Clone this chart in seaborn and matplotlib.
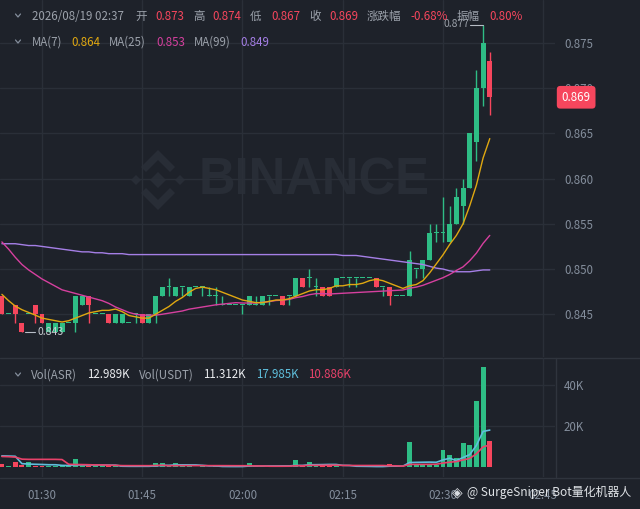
import numpy as np
import pandas as pd
import matplotlib
matplotlib.use("Agg")
import matplotlib.pyplot as plt
import seaborn as sns
from matplotlib.patches import Polygon
from matplotlib.transforms import blended_transform_factory

# ---------------- data ----------------
START = "2026-08-19 01:24"
OPEN = [0.847, 0.845, 0.846, 0.844, 0.845, 0.846, 0.845, 0.843, 0.843, 0.843,
        0.844, 0.844, 0.846, 0.847, 0.845, 0.845, 0.845, 0.844, 0.844, 0.844,
        0.845, 0.845, 0.844, 0.845, 0.847, 0.848, 0.847, 0.848, 0.847, 0.848,
        0.848, 0.847, 0.847, 0.846, 0.846, 0.846, 0.846, 0.846, 0.846, 0.846,
        0.847, 0.847, 0.847, 0.847, 0.847, 0.849, 0.849, 0.848, 0.848, 0.848,
        0.848, 0.849, 0.849, 0.849, 0.849, 0.849, 0.849, 0.848, 0.848, 0.847,
        0.847, 0.847, 0.850, 0.850, 0.851, 0.854, 0.854, 0.853, 0.855, 0.857,
        0.859, 0.864, 0.870, 0.873]
HIGH = [0.847, 0.845, 0.846, 0.844, 0.845, 0.846, 0.845, 0.844, 0.844, 0.844,
        0.844, 0.847, 0.847, 0.847, 0.845, 0.845, 0.845, 0.845, 0.845, 0.844,
        0.845, 0.845, 0.845, 0.847, 0.848, 0.849, 0.848, 0.848, 0.848, 0.848,
        0.848, 0.848, 0.848, 0.847, 0.846, 0.846, 0.846, 0.847, 0.847, 0.847,
        0.847, 0.847, 0.847, 0.847, 0.849, 0.849, 0.850, 0.849, 0.848, 0.848,
        0.849, 0.849, 0.849, 0.849, 0.849, 0.849, 0.849, 0.848, 0.848, 0.847,
        0.847, 0.852, 0.850, 0.851, 0.855, 0.855, 0.858, 0.857, 0.859, 0.860,
        0.865, 0.872, 0.877, 0.874]
LOW = [0.845, 0.845, 0.844, 0.843, 0.845, 0.844, 0.844, 0.843, 0.843, 0.843,
       0.844, 0.843, 0.846, 0.844, 0.845, 0.845, 0.844, 0.844, 0.844, 0.844,
       0.844, 0.844, 0.844, 0.844, 0.847, 0.847, 0.847, 0.847, 0.847, 0.848,
       0.847, 0.847, 0.846, 0.846, 0.846, 0.846, 0.845, 0.846, 0.846, 0.846,
       0.846, 0.847, 0.846, 0.846, 0.847, 0.848, 0.848, 0.847, 0.847, 0.847,
       0.848, 0.849, 0.848, 0.848, 0.849, 0.849, 0.848, 0.847, 0.846, 0.847,
       0.847, 0.847, 0.849, 0.849, 0.851, 0.853, 0.853, 0.853, 0.855, 0.855,
       0.859, 0.862, 0.868, 0.867]
CLOSE = [0.845, 0.845, 0.845, 0.843, 0.845, 0.845, 0.844, 0.844, 0.844, 0.844,
         0.844, 0.847, 0.847, 0.846, 0.845, 0.845, 0.844, 0.845, 0.845, 0.844,
         0.845, 0.844, 0.845, 0.847, 0.848, 0.848, 0.848, 0.848, 0.848, 0.848,
         0.848, 0.847, 0.847, 0.846, 0.846, 0.846, 0.846, 0.847, 0.846, 0.847,
         0.847, 0.847, 0.846, 0.847, 0.849, 0.848, 0.849, 0.848, 0.847, 0.847,
         0.849, 0.849, 0.849, 0.849, 0.849, 0.849, 0.848, 0.848, 0.847, 0.847,
         0.847, 0.851, 0.850, 0.851, 0.854, 0.854, 0.854, 0.855, 0.858, 0.859,
         0.865, 0.870, 0.875, 0.869]
VOLUME_K = [1.6, 0.65, 2.8, 1.1, 2.4, 0.65, 0.65, 0.65, 0.65, 0.65,
            0.65, 4.1, 0.7, 0.6, 0.5, 0.5, 0.6, 0.5, 0.5, 0.4,
            0.5, 0.6, 0.5, 2.0, 2.3, 0.6, 2.0, 0.5, 0.5, 0.4,
            0.5, 0.4, 0.5, 0.3, 0.3, 0.4, 0.5, 2.0, 0.6, 0.6,
            0.3, 0.3, 0.6, 0.6, 3.6, 0.6, 2.8, 0.6, 0.6, 1.1,
            0.6, 0.4, 0.3, 0.3, 0.3, 0.3, 0.6, 0.6, 1.6, 0.4,
            0.4, 12.5, 1.0, 1.0, 1.0, 1.0, 8.5, 6.0, 4.4, 11.7,
            10.9, 32.3, 48.8, 13.0]
# moving-average values before their windows are full
MA7_HEAD = [0.8472, 0.8465, 0.8459, 0.8455, 0.8452, 0.8449]
MA25_HEAD = [0.8530, 0.8522, 0.8513, 0.8505, 0.8499, 0.8494, 0.8489, 0.8485,
             0.8481, 0.8477, 0.8475, 0.8473, 0.8471, 0.8469, 0.8467, 0.8465,
             0.8462, 0.8458, 0.8455, 0.8452, 0.8450, 0.8449, 0.8449, 0.8449]
MA99 = ([0.8528, 0.8528, 0.8528, 0.8527, 0.8526, 0.8526, 0.8525, 0.8524,
         0.8523, 0.8522, 0.8521, 0.8520, 0.8519, 0.8519, 0.8518, 0.8518,
         0.8517, 0.8517, 0.8517, 0.8516]
        + [0.8516] * 31
        + [0.8515, 0.8515, 0.8515, 0.8514, 0.8513, 0.8512, 0.8511, 0.8510,
           0.8509, 0.8508, 0.8507, 0.8506, 0.8505, 0.8503, 0.8501, 0.8500,
           0.8498, 0.8497, 0.8497, 0.8497, 0.8498, 0.8499, 0.8499])
VMA7_HEAD = [5.6, 5.5, 5.4, 1.8, 1.6, 1.5]
VMA14_HEAD = [5.3, 5.2, 5.0, 4.0, 3.9, 3.9, 3.9, 3.9, 3.9, 3.8, 1.5, 1.4, 1.35]
TIME_TICKS = ["01:30", "01:45", "02:00", "02:15", "02:30", "02:45"]
PRICE_TICKS = [0.845, 0.850, 0.855, 0.860, 0.865, 0.870, 0.875]
VOL_TICKS = [20, 40]
VOL_TICK_LABELS = ["20K", "40K"]
HEADER_DATE = "2026/08/19 02:37"
CHANGE_PCT = "-0.68%"
AMPLITUDE = "0.80%"
MA_TEXT = ["0.864", "0.853", "0.849"]
VOL_TEXT = ["12.989K", "11.312K", "17.985K", "10.886K"]

# ---------------- derived ----------------
times = pd.date_range(START, periods=len(CLOSE), freq="min")
idx = np.arange(len(CLOSE))
df = pd.DataFrame({"i": idx, "open": OPEN, "high": HIGH, "low": LOW,
                   "close": CLOSE, "vol": VOLUME_K})
close_s = df["close"]
ma7 = close_s.rolling(7).mean().to_numpy()
ma7[:len(MA7_HEAD)] = MA7_HEAD
ma25 = close_s.rolling(25).mean().to_numpy()
ma25[:len(MA25_HEAD)] = MA25_HEAD
ma99 = np.array(MA99)
vma7 = df["vol"].rolling(7).mean().to_numpy()
vma7[:len(VMA7_HEAD)] = VMA7_HEAD
vma14 = df["vol"].rolling(14).mean().to_numpy()
vma14[:len(VMA14_HEAD)] = VMA14_HEAD
up = df["close"] >= df["open"]

tick_pos = [(pd.Timestamp(f"2026-08-19 {t}") - times[0]) / pd.Timedelta("1min")
            for t in TIME_TICKS]

# ---------------- style ----------------
BG = "#1e222a"
GRID = "#2a2f38"
GREEN = "#2ebd85"
RED = "#f6465d"
TXT = "#848e9c"
C_MA7, C_MA25, C_MA99 = "#e0a811", "#d6409f", "#a57fe6"
C_V7, C_V14 = "#5fbfdc", "#e8426a"
sns.set_theme(style="dark")
plt.rcParams["font.family"] = ["Noto Sans CJK SC", "DejaVu Sans"]
plt.rcParams["axes.unicode_minus"] = False

W, H = 640, 509
fig = plt.figure(figsize=(6.4, 5.09), dpi=100, facecolor=BG)

# background overlay (watermark)
bg = fig.add_axes([0, 0, 1, 1], zorder=0)
bg.set_xlim(0, W)
bg.set_ylim(H, 0)
bg.axis("off")
WM = "#282d36"
cx, cy = 158, 180
shapes = [
    [(0, -8), (8, 0), (0, 8), (-8, 0)],
    [(-22, -5), (-17, 0), (-22, 5), (-27, 0)],
    [(22, -5), (27, 0), (22, 5), (17, 0)],
    [(-17, -13), (0, -30), (17, -13), (12, -8), (0, -20), (-12, -8)],
    [(-17, 13), (0, 30), (17, 13), (12, 8), (0, 20), (-12, 8)],
]
for s in shapes:
    bg.add_patch(Polygon([(cx + a, cy + b) for a, b in s], closed=True,
                         fc=WM, ec="none"))
bg.text(199, 181, "BINANCE", fontsize=36.5, fontweight="bold", color=WM,
        family="Liberation Sans", va="center", ha="left")
# pane separators
bg.plot([0, W], [357.5, 357.5], color="#2f343d", lw=1)
bg.plot([0, W], [477.5, 477.5], color="#2f343d", lw=1)
bg.plot([555.5, 555.5], [358, 477], color="#2f343d", lw=1)

# price pane
XL = (-0.284, 82.76)
ax = fig.add_axes([0, (H - 357) / H, 555 / W, 357 / H], zorder=1)
ax.set_facecolor("none")
ax.set_xlim(*XL)
ax.set_ylim(0.84027, 0.87976)
for s in ax.spines.values():
    s.set_visible(False)
ax.set_yticks(PRICE_TICKS)
ax.set_yticklabels([f"{p:.3f}" for p in PRICE_TICKS])
ax.yaxis.tick_right()
ax.set_xticks(tick_pos)
ax.set_xticklabels([])
ax.tick_params(axis="both", length=0, colors=TXT, labelsize=8.3, pad=6.5)
ax.grid(True, color=GRID, lw=1)
ax.set_axisbelow(True)

cols = np.where(up, GREEN, RED)
ax.vlines(df["i"], df["low"], df["high"], colors=cols, lw=1, zorder=2)
body_lo = np.minimum(df["open"], df["close"])
body_h = np.maximum(np.abs(df["close"] - df["open"]), 0.00012)
ax.bar(df["i"], body_h, bottom=body_lo, width=0.74, color=cols, zorder=3,
       linewidth=0)

for vals, c in [(ma99, C_MA99), (ma25, C_MA25), (ma7, C_MA7)]:
    sns.lineplot(x=idx, y=vals, ax=ax, color=c, lw=1, sort=False,
                 estimator=None, zorder=4)

# high / low markers
hi_i = int(np.argmax(HIGH))
lo_i = int(np.argmin(LOW))
MK = "#b7bdc6"
ax.plot([hi_i - 1.9, hi_i], [HIGH[hi_i], HIGH[hi_i]], color=MK, lw=0.8, zorder=5)
ax.text(hi_i - 2.1, HIGH[hi_i] + 0.00005, f"{HIGH[hi_i]:.3f}", color="#9aa0a8",
        fontsize=7.5, ha="right", va="center", zorder=5)
ax.plot([lo_i + 0.5, lo_i + 2.0], [LOW[lo_i], LOW[lo_i]], color=MK, lw=0.8, zorder=5)
ax.text(lo_i + 2.3, LOW[lo_i], f"{LOW[lo_i]:.3f}", color="#c8ccd2",
        fontsize=7.5, ha="left", va="center", zorder=5)

# current price label
tr = blended_transform_factory(ax.transAxes, ax.transData)
ax.text(1.012, CLOSE[-1], f"{CLOSE[-1]:.3f}", transform=tr, ha="left",
        va="center", color="white", fontsize=8.3, clip_on=False, zorder=10,
        bbox=dict(boxstyle="round,pad=0.42,rounding_size=0.3", fc=RED, ec="none"))

# volume pane
vax = fig.add_axes([0, (H - 477) / H, 555 / W, 119 / H], zorder=1)
vax.set_facecolor("none")
vax.set_xlim(*XL)
vax.set_ylim(-4.7, 53.3)
for s in vax.spines.values():
    s.set_visible(False)
vax.bar(df["i"], df["vol"], width=0.74, color=cols, linewidth=0, zorder=2)
sns.lineplot(x=idx, y=vma7, ax=vax, color=C_V7, lw=1.2, sort=False,
             estimator=None, zorder=3)
sns.lineplot(x=idx, y=vma14, ax=vax, color=C_V14, lw=1.2, sort=False,
             estimator=None, zorder=3)
vax.set_yticks(VOL_TICKS)
vax.set_yticklabels(VOL_TICK_LABELS)
vax.yaxis.tick_right()
vax.set_xticks(tick_pos)
vax.set_xticklabels(TIME_TICKS)
vax.tick_params(axis="y", length=0, colors=TXT, labelsize=8.3, pad=6.5)
vax.tick_params(axis="x", length=0, colors=TXT, labelsize=8.3, pad=8.5)
vax.grid(True, color=GRID, lw=1)
vax.set_axisbelow(True)
for a in (ax, vax):
    a.set_xlabel("")
    a.set_ylabel("")

# header text overlay
top = fig.add_axes([0, 0, 1, 1], zorder=20)
top.set_xlim(0, W)
top.set_ylim(H, 0)
top.axis("off")
top.patch.set_alpha(0)


def chevron(y):
    top.plot([15.5, 18, 20.5], [y - 2, y + 1, y - 2], color=TXT, lw=0.9,
             solid_capstyle="round")


FS = 8.3
LBL = "#9ba1aa"
chevron(16)
row1 = [(32, HEADER_DATE, LBL), (135, "开", LBL), (155, f"{OPEN[-1]:.3f}", RED),
        (193, "高", LBL), (212, f"{HIGH[-1]:.3f}", RED), (250, "低", LBL),
        (271, f"{LOW[-1]:.3f}", RED), (309, "收", LBL), (329, f"{CLOSE[-1]:.3f}", RED),
        (367, "涨跌幅", LBL), (410, CHANGE_PCT, RED), (457, "振幅", LBL),
        (489, AMPLITUDE, RED)]
for x, t, c in row1:
    top.text(x, 16, t, color=c, fontsize=FS, va="center", ha="left")

chevron(42)
row2 = [(32, "MA(7)", LBL), (71, MA_TEXT[0], C_MA7),
        (109, "MA(25)", LBL), (156, MA_TEXT[1], C_MA25),
        (194, "MA(99)", LBL), (240, MA_TEXT[2], C_MA99)]
for x, t, c in row2:
    top.text(x, 42, t, color=c, fontsize=FS, va="center", ha="left")

chevron(375)
row3 = [(31, "Vol(ASR)", LBL), (87, VOL_TEXT[0], "#eaecef"), (139, "Vol(USDT)", LBL),
        (203, VOL_TEXT[1], "#eaecef"), (256, VOL_TEXT[2], C_V7),
        (308, VOL_TEXT[3], C_V14)]
for x, t, c in row3:
    top.text(x, 375, t, color=c, fontsize=FS, va="center", ha="left")

# bottom-right watermark
top.text(452, 492, "◈", color="#d9dce1", fontsize=10, family="DejaVu Sans",
         va="center", ha="left")
top.text(467, 492, "@ SurgeSniper Bot量化机器人", color="#dfe2e6", fontsize=8.6,
         va="center", ha="left")

fig.savefig("out.png", dpi=100, facecolor=BG)
